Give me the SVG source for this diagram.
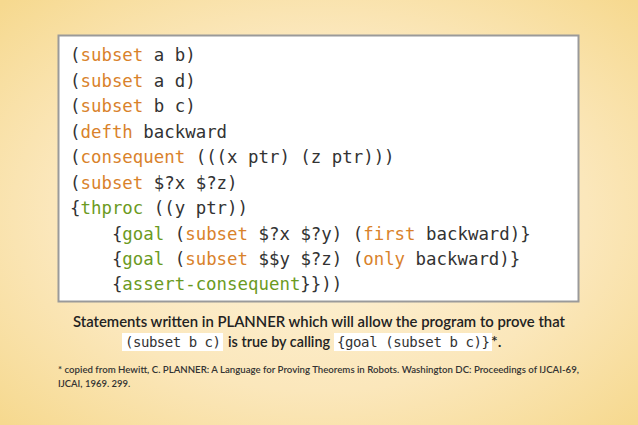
<svg xmlns="http://www.w3.org/2000/svg" width="638" height="425" viewBox="0 0 638 425">
<defs>
<radialGradient id="bg" cx="50%" cy="50%" r="70%">
<stop offset="0" stop-color="#fdf3dc"/><stop offset="0.6" stop-color="#fbe7bb"/><stop offset="1" stop-color="#f6d98f"/>
</radialGradient>
<style>
.c{font-family:"DejaVu Sans Mono",monospace;font-size:17.4px;fill:#333;white-space:pre}
.o{fill:#d9822b}.g{fill:#6b9a22}
.cap{font-family:Lato,"Liberation Sans",sans-serif;font-size:16px;font-weight:600;fill:#222}
.cm{font-family:"DejaVu Sans Mono",monospace;font-size:14px;fill:#333;white-space:pre}
.fn{font-family:Lato,"Liberation Sans",sans-serif;font-size:9.5px;font-weight:600;fill:#333}
</style>
</defs>
<rect width="638" height="425" fill="url(#bg)"/>
<g id="code">
<rect x="58.5" y="35.5" width="520" height="266" fill="#fff" stroke="#9a9a9a" stroke-width="2"/>
<text class="c" x="70" y="61">(<tspan class="o">subset</tspan> a b)</text>
<text class="c" x="70" y="87">(<tspan class="o">subset</tspan> a d)</text>
<text class="c" x="70" y="112">(<tspan class="o">subset</tspan> b c)</text>
<text class="c" x="70" y="138">(<tspan class="o">defth</tspan> backward</text>
<text class="c" x="70" y="163">(<tspan class="o">consequent</tspan> (((x ptr) (z ptr)))</text>
<text class="c" x="70" y="189">(<tspan class="o">subset</tspan> $?x $?z)</text>
<text class="c" x="70" y="214">{<tspan class="g">thproc</tspan> ((y ptr))</text>
<text class="c" x="70" y="240">    {<tspan class="g">goal</tspan> (<tspan class="o">subset</tspan> $?x $?y) (<tspan class="o">first</tspan> backward)}</text>
<text class="c" x="70" y="265">    {<tspan class="g">goal</tspan> (<tspan class="o">subset</tspan> $$y $?z) (<tspan class="o">only</tspan> backward)}</text>
<text class="c" x="70" y="290">    {<tspan class="g">assert-consequent</tspan>}}))</text>
</g>
<g id="caption">
<text class="cap" x="73" y="327" textLength="492" lengthAdjust="spacingAndGlyphs">Statements written in PLANNER which will allow the program to prove that</text>
<rect x="122" y="333" width="101" height="18" fill="#fff"/>
<rect x="334" y="333" width="158" height="18" fill="#fff"/>
<text class="cm" x="125" y="347" textLength="96">(subset b c)</text>
<text class="cap" x="228" y="347" textLength="102" lengthAdjust="spacingAndGlyphs">is true by calling</text>
<text class="cm" x="337" y="347" textLength="153">{goal (subset b c)}</text>
<text class="cap" x="491" y="347">*.</text>
</g>
<g id="footnote">
<text class="fn" x="58" y="373" textLength="521" lengthAdjust="spacingAndGlyphs">* copied from Hewitt, C. PLANNER: A Language for Proving Theorems in Robots. Washington DC: Proceedings of IJCAI-69,</text>
<text class="fn" x="58" y="387">IJCAI, 1969. 299.</text>
</g>
</svg>
